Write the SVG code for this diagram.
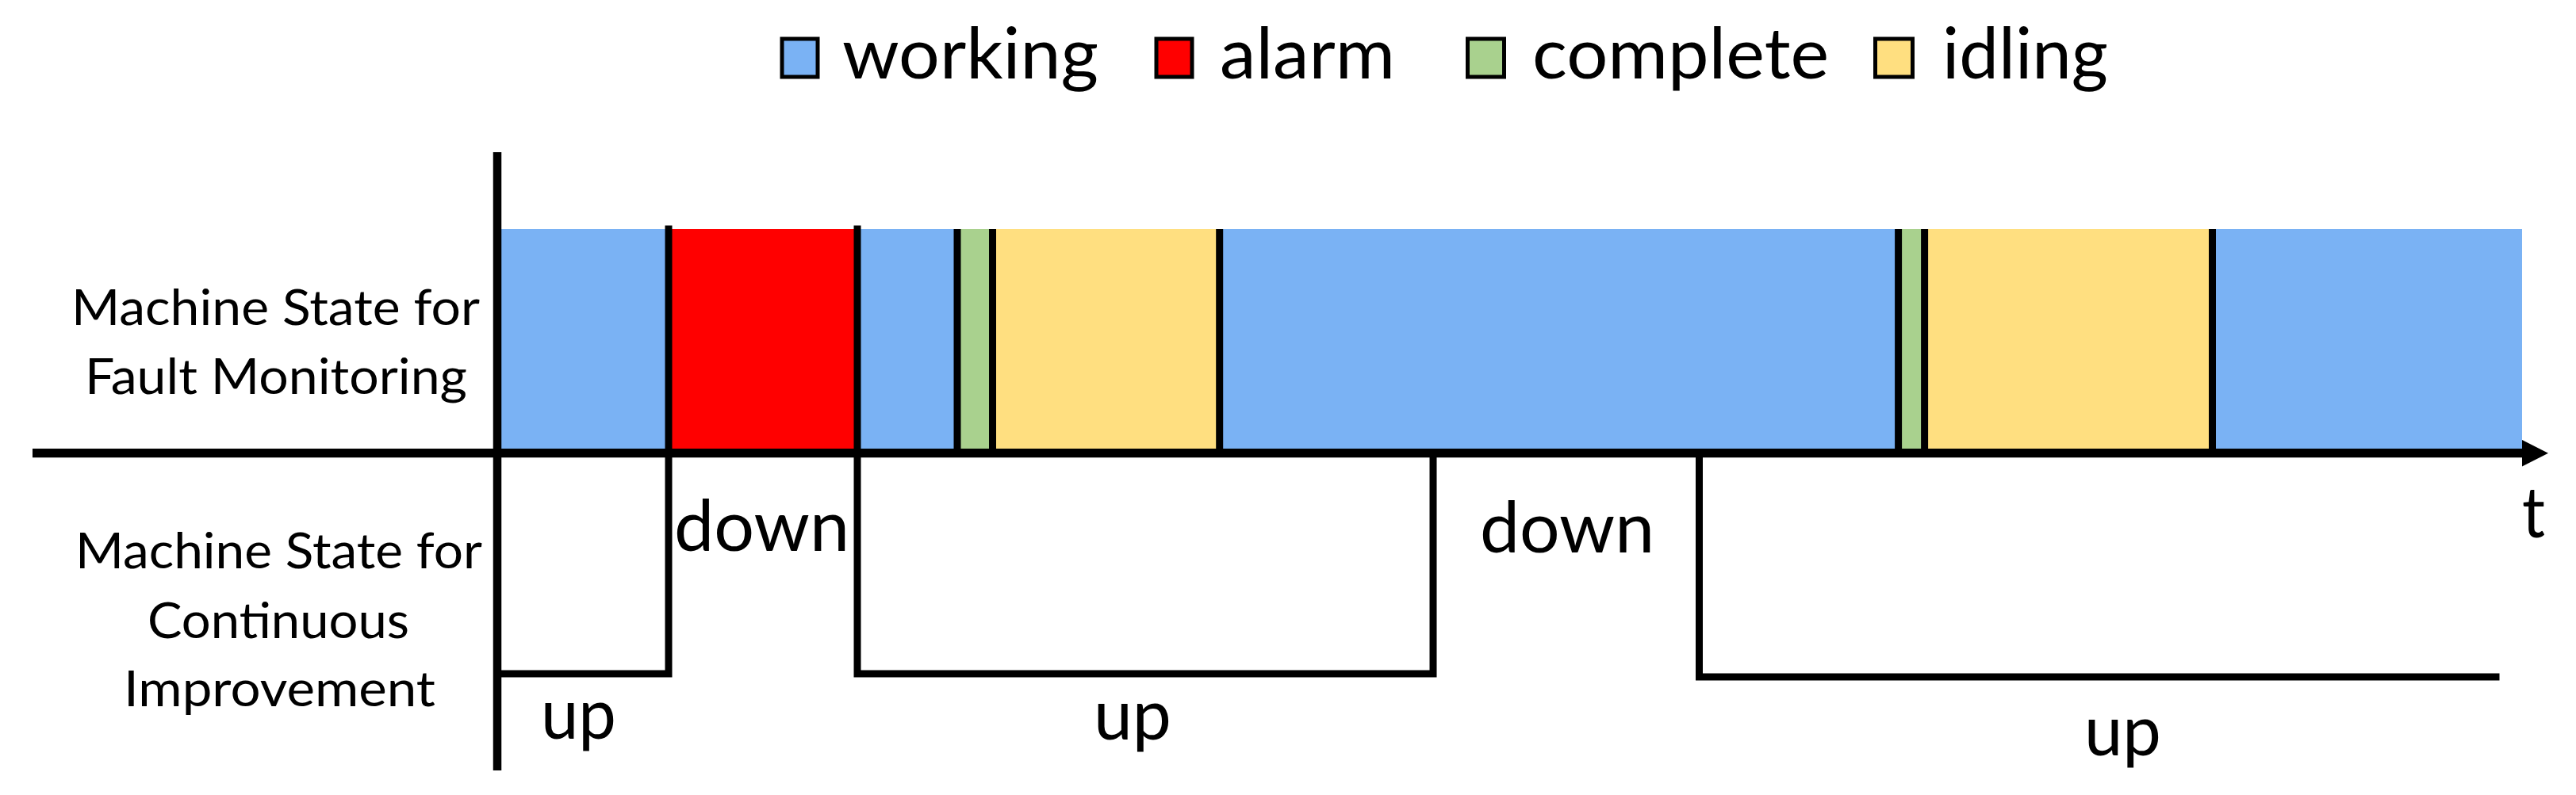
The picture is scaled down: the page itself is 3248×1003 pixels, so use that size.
<svg xmlns="http://www.w3.org/2000/svg" width="3248" height="1003" viewBox="0 0 3248 1003">
<style>
.lbl{font-family:Lato,"Open Sans","Liberation Sans",sans-serif;font-size:61px;fill:#000}
.big{font-family:Lato,"Open Sans","Liberation Sans",sans-serif;font-size:89px;fill:#000}
.sw{stroke:#000;stroke-width:5}
.sep{stroke:#000;stroke-width:9;fill:none}
.step{stroke:#000;stroke-width:9;fill:none;stroke-linejoin:miter;stroke-linecap:square}
.work{fill:#7AB2F4}.alarm{fill:#FF0000}.done{fill:#A9D18E}.idle{fill:#FFDF80}
</style>
<rect width="3248" height="1003" fill="#fff"/>
<g id="legend">
<g id="legend-working"><rect class="work sw" x="986" y="49" width="45" height="48"/><text class="big" x="1062" y="99" textLength="323" lengthAdjust="spacingAndGlyphs">working</text></g>
<g id="legend-alarm"><rect class="alarm sw" x="1458" y="49" width="45" height="48"/><text class="big" x="1538" y="99" textLength="221" lengthAdjust="spacingAndGlyphs">alarm</text></g>
<g id="legend-complete"><rect class="done sw" x="1850.5" y="49" width="46" height="48"/><text class="big" x="1932" y="99" textLength="374" lengthAdjust="spacingAndGlyphs">complete</text></g>
<g id="legend-idling"><rect class="idle sw" x="2364.5" y="49" width="47" height="48"/><text class="big" x="2449" y="99" textLength="209" lengthAdjust="spacingAndGlyphs">idling</text></g>
</g>
<g id="row-labels">
<g id="label-fault"><text class="lbl" x="90" y="410" textLength="515" lengthAdjust="spacingAndGlyphs">Machine State for</text><text class="lbl" x="107" y="497" textLength="482" lengthAdjust="spacingAndGlyphs">Fault Monitoring</text></g>
<g id="label-ci"><text class="lbl" x="95" y="717" textLength="513" lengthAdjust="spacingAndGlyphs">Machine State for</text><text class="lbl" x="186" y="805" textLength="330" lengthAdjust="spacingAndGlyphs">Continuous</text><text class="lbl" x="156" y="891" textLength="393" lengthAdjust="spacingAndGlyphs">Improvement</text></g>
</g>
<g id="state-band">
<rect id="s1" class="work" x="632" y="289" width="211" height="277"/>
<rect id="s2" class="alarm" x="843" y="289" width="238" height="277"/>
<rect id="s3" class="work" x="1081" y="289" width="126" height="277"/>
<rect id="s4" class="done" x="1207" y="289" width="44.5" height="277"/>
<rect id="s5" class="idle" x="1251.5" y="289" width="286.2" height="277"/>
<rect id="s6" class="work" x="1537.7" y="289" width="855.9" height="277"/>
<rect id="s7" class="done" x="2393.6" y="289" width="33" height="277"/>
<rect id="s8" class="idle" x="2426.6" y="289" width="362.9" height="277"/>
<rect id="s9" class="work" x="2789.5" y="289" width="390.5" height="277"/>
</g>
<g id="connectors">
<line class="sep" x1="1207" y1="289" x2="1207" y2="566"/>
<line class="sep" x1="1251.5" y1="289" x2="1251.5" y2="566"/>
<line class="sep" x1="1537.7" y1="289" x2="1537.7" y2="566"/>
<line class="sep" x1="2393.6" y1="289" x2="2393.6" y2="566"/>
<line class="sep" x1="2426.6" y1="289" x2="2426.6" y2="566"/>
<line class="sep" x1="2789.5" y1="289" x2="2789.5" y2="566"/>
<polyline class="step" points="627,850 843,850 843,289"/>
<polyline class="step" points="1081,289 1081,850 1807,850 1807,572"/>
<polyline class="step" points="2142.5,572 2142.5,854 3147,854"/>
<line x1="627" y1="192" x2="627" y2="972" stroke="#000" stroke-width="10.5"/>
<line x1="41" y1="571.7" x2="3182" y2="571.7" stroke="#000" stroke-width="11.3"/>
<polygon points="3180,555 3213,571.7 3180,588.5" fill="#000"/>
</g>
<g id="step-labels">
<text class="big" x="682" y="932" textLength="95" lengthAdjust="spacingAndGlyphs">up</text>
<text class="big" x="850" y="695" textLength="221" lengthAdjust="spacingAndGlyphs">down</text>
<text class="big" x="1379" y="933" textLength="98" lengthAdjust="spacingAndGlyphs">up</text>
<text class="big" x="1866" y="697" textLength="220" lengthAdjust="spacingAndGlyphs">down</text>
<text class="big" x="2628" y="953" textLength="97" lengthAdjust="spacingAndGlyphs">up</text>
<text class="big" x="3180" y="678" textLength="29" lengthAdjust="spacingAndGlyphs">t</text>
</g>
</svg>
